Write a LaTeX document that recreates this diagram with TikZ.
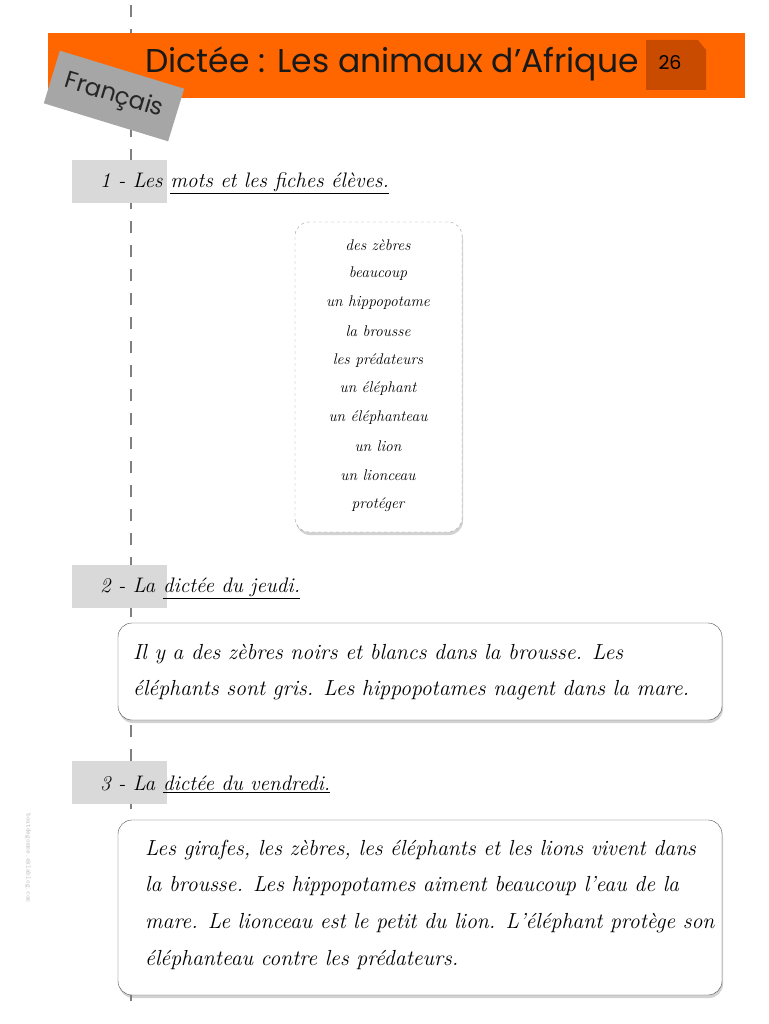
\documentclass[tikz,border=0pt]{standalone}
\usepackage{fontspec}
\setmainfont{Latin Modern Roman}
\newfontfamily\titlefont{Poppins}
\usetikzlibrary{shadows}
\definecolor{orangebar}{HTML}{FF6600}
\definecolor{darkor}{HTML}{C84B00}
\definecolor{lgray}{HTML}{D9D9D9}
\definecolor{mgray}{HTML}{A6A6A6}
\tikzset{
 lab/.style={fill=lgray,minimum width=95pt,minimum height=43pt,inner sep=0pt},
 hd/.style={anchor=west,font=\itshape\fontsize{21}{21}\selectfont,inner sep=0pt},
 word/.style={font=\itshape\fontsize{15.5}{15.5}\selectfont},
 txt/.style={anchor=west,font=\itshape\fontsize{21.8}{21.8}\selectfont,inner sep=0pt},
 card/.style={draw=black!70,rounded corners=14pt,fill=white,drop shadow={shadow xshift=1pt,shadow yshift=-3pt,opacity=0.35}},
}
\begin{document}
\begin{tikzpicture}[x=1pt,y=-1pt]
\useasboundingbox (0,0) rectangle (768,1024);
\fill[white] (0,0) rectangle (768,1024);
\draw[gray,line width=1.5pt,dash pattern=on 12pt off 12pt] (131,5) -- (131,1010);
\fill[orangebar] (48,33) rectangle (745,98);
\fill[darkor] (646,40) -- (698,40) -- (706,50) -- (706,90) -- (646,90) -- cycle;
\node[font=\titlefont\fontsize{19}{19}\selectfont] (num) at (670,63) {26};
\node[font=\titlefont\fontsize{33}{33}\selectfont,inner sep=0pt,text=black!90] (title) at (392,64) {Dictée : Les animaux d’Afrique};
\node[fill=mgray,rotate=-17,minimum width=130pt,minimum height=55pt,inner sep=0pt,font=\titlefont\fontsize{24}{24}\selectfont,text=black!85] (fr) at (114,96) {Français};
\node[rotate=-90,font=\ttfamily\fontsize{7}{7}\selectfont,text=black!25] (url) at (28,858) {boutdegomme.eklablog.com};
% section 1
\node[lab] (l1) at (119.5,181.5) {};
\node[hd] (h1) at (100,183) {1 - Les\hspace{8pt}\underline{mots et les fiches élèves.}};
\node[card,dashed,draw=black!40,minimum width=167pt,minimum height=310pt] (c1) at (378.5,377) {};
\foreach \w [count=\i from 0] in {des zèbres,beaucoup,un hippopotame,la brousse,les prédateurs,un éléphant,un éléphanteau,un lion,un lionceau,protéger}
 \node[word] (w\i) at (378,245+28.8*\i) {\w};
% section 2
\node[lab] (l2) at (119.5,586.5) {};
\node[hd] (h2) at (100,588) {2 - La\hspace{8pt}\underline{dictée du jeudi.}};
\node[card,minimum width=604pt,minimum height=97pt] (c2) at (420,671.5) {};
\node[txt] (t21) at (133,654) {Il y a des zèbres noirs et blancs dans la brousse. Les};
\node[txt] (t22) at (133,690) {éléphants sont gris. Les hippopotames nagent dans la mare.};
% section 3
\node[lab] (l3) at (119.5,782) {};
\node[hd] (h3) at (100,784) {3 - La\hspace{8pt}\underline{dictée du vendredi.}};
\node[card,minimum width=604pt,minimum height=175pt] (c3) at (420,907.5) {};
\node[txt] (t31) at (145,850) {Les girafes, les zèbres, les éléphants et les lions vivent dans};
\node[txt] (t32) at (145,886) {la brousse. Les hippopotames aiment beaucoup l’eau de la};
\node[txt] (t33) at (145,923) {mare. Le lionceau est le petit du lion. L’éléphant protège son};
\node[txt] (t34) at (145,960) {éléphanteau contre les prédateurs.};
\end{tikzpicture}
\end{document}
